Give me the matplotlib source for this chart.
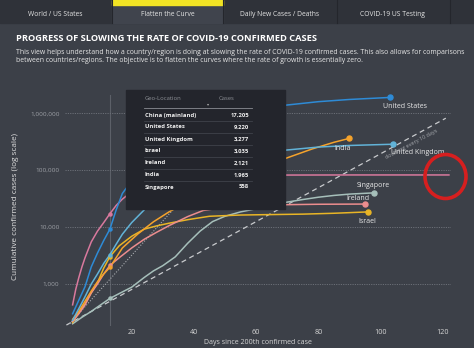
import matplotlib
matplotlib.use('Agg')
import matplotlib.pyplot as plt
from matplotlib.patches import Rectangle, Ellipse

plt.rcParams['font.family'] = ['Open Sans', 'DejaVu Sans']

W, H = 474, 348

# tabs of the dashboard
tab_names = ['World / US States', 'Flatten the Curve', 'Daily New Cases / Deaths', 'COVID-19 US Testing']
title = 'PROGRESS OF SLOWING THE RATE OF COVID-19 CONFIRMED CASES'
desc = ['This view helps understand how a country/region is doing at slowing the rate of COVID-19 confirmed cases. This also allows for comparisons',
        'between countries/regions. The objective is to flatten the curves where the rate of growth is essentially zero.']

# cumulative cases by days since 200th case
china_days = [1, 2, 3, 4, 5, 6, 7, 9, 11, 13, 15, 17, 20, 23, 26, 30, 40, 60, 90, 122]
china_cases = [430, 800, 1300, 2000, 2900, 4000, 5500, 8500, 12000, 17205, 24000, 31000, 42000, 60000,
               70000, 76000, 80000, 82000, 82500, 82500]

us_days = [1, 3, 5, 7, 9, 11, 13, 15, 17, 20, 25, 30, 40, 50, 60, 69, 80, 90, 103]
us_cases = [300, 520, 900, 2000, 3500, 5800, 9220, 20000, 39000, 65000, 160000, 310000, 600000, 900000,
            1180000, 1380000, 1600000, 1750000, 1900000]

uk_days = [1, 3, 5, 7, 9, 11, 13, 15, 17, 20, 24, 28, 32, 36, 40, 45, 50, 55, 60, 69, 80, 90, 104]
uk_cases = [230, 370, 600, 1000, 1500, 2300, 3277, 5000, 7500, 12000, 20000, 35000, 50000, 70000, 90000,
            120000, 145000, 170000, 195000, 224000, 255000, 272000, 286000]

israel_days = [1, 3, 5, 7, 9, 11, 13, 16, 20, 24, 28, 32, 38, 45, 55, 65, 75, 85, 96]
israel_cases = [210, 320, 450, 700, 1050, 1900, 3035, 4700, 6900, 9200, 10500, 11700, 13500, 15500, 16300,
                16600, 16900, 17500, 18500]

ireland_days = [1, 3, 5, 7, 9, 11, 13, 16, 20, 24, 28, 32, 38, 43, 50, 60, 70, 80, 95]
ireland_cases = [220, 300, 430, 700, 1000, 1500, 2121, 2900, 4300, 6100, 8100, 10600, 15300, 19600, 22200,
                 24000, 24800, 25200, 25400]

india_days = [1, 3, 5, 7, 9, 11, 13, 17, 22, 27, 32, 37, 43, 52, 62, 70, 78, 85, 90]
india_cases = [240, 330, 500, 750, 1100, 1500, 1965, 4300, 7600, 12400, 18500, 26300, 37300, 67000, 112000,
               165000, 236000, 309000, 363000]

sing_days = [1, 4, 7, 10, 13, 16, 20, 24, 27, 30, 34, 38, 42, 46, 50, 55, 60, 65, 70, 75, 80, 85, 90, 98]
sing_cases = [200, 260, 330, 430, 558, 680, 880, 1300, 1700, 2100, 3000, 5200, 8500, 12500, 15500, 18500,
              21000, 24500, 27500, 30500, 33500, 36000, 38000, 40000]

# reference lines
ref10_days = [-1, 121]
ref10_cases = [190, 820000]
ref5_days = [0, 50]
ref5_cases = [200, 205000]

# tooltip table (hover at day 13)
hover_day = 13
table_names = ['China (mainland)', 'United States', 'United Kingdom', 'Israel', 'Ireland', 'India', 'Singapore']
table_cases = ['17,205', '9,220', '3,277', '3,035', '2,121', '1,965', '558']

series = [
    ('China (mainland)', china_days, china_cases, '#d9799e', None),
    ('Singapore', sing_days, sing_cases, '#a6bfba', 'Singapore'),
    ('Israel', israel_days, israel_cases, '#e9b526', 'Israel'),
    ('Ireland', ireland_days, ireland_cases, '#ec8d8e', 'Ireland'),
    ('India', india_days, india_cases, '#f5a32c', 'India'),
    ('United Kingdom', uk_days, uk_cases, '#62b3d8', 'United Kingdom'),
    ('United States', us_days, us_cases, '#2e8bd6', 'United States'),
]
# label positions (day, cases)
label_pos = {
    'United States': (108, 1330000),
    'India': (87.7, 243000),
    'United Kingdom': (112, 207000),
    'Singapore': (97.7, 54500),
    'Ireland': (92.6, 32300),
    'Israel': (95.8, 12700),
}

bg = '#3c4048'
fig = plt.figure(figsize=(W / 100, H / 100), dpi=100, facecolor=bg)

# main chart axes placed in pixel terms
left, right, top, bottom = 65, 451, 88, 326
ax = fig.add_axes([left / W, 1 - bottom / H, (right - left) / W, (bottom - top) / H])
ax.set_facecolor('none')
ax.set_yscale('log')
ax.set_xlim((left - 69.5) / 3.11, (right - 69.5) / 3.11)
ax.set_ylim(10 ** (6 - (bottom - 113.3) / 56.9), 10 ** (6 + (113.3 - top) / 56.9))
for s in ax.spines.values():
    s.set_visible(False)
ax.set_xticks([20, 40, 60, 80, 100, 120])
ax.set_yticks([1000, 10000, 100000, 1000000])
ax.set_yticklabels(['1,000', '10,000', '100,000', '1,000,000'])
ax.minorticks_off()
ax.tick_params(axis='x', length=0, pad=2, labelsize=5.2, labelcolor='#d4d4d4')
ax.tick_params(axis='y', length=0, pad=4, labelsize=4.6, labelcolor='#9da0a6')
ax.grid(axis='y', color='#6b6f77', linestyle=(0, (1.2, 1.2)), linewidth=0.7)
ax.set_xlabel('Days since 200th confirmed case', fontsize=5, color='#d4d4d4', labelpad=2)
ax.set_ylabel('Cumulative confirmed cases (log scale)', fontsize=5.9, color='#e0e0e0', labelpad=8)

# hover line
ax.axvline(hover_day, ymin=0.0, ymax=0.97, color='#5c6068', linewidth=0.8, zorder=1)

ax.plot(ref10_days, ref10_cases, color='#c9cbce', linestyle=(0, (4, 3)), linewidth=0.9, zorder=2)
ax.plot(ref5_days, ref5_cases, color='#a9acb0', linestyle=(0, (1, 1.5)), linewidth=0.8, zorder=2)
ax.text(110, 290000, 'doubling every 10 days', fontsize=4, color='#a2a5aa', rotation=28,
        ha='center', va='center', zorder=3)

for name, d, c, col, lab in series:
    ax.plot(d, c, color=col, linewidth=1.1, zorder=4)
    if lab is not None:
        ax.plot(d[-1], c[-1], 'o', color=col, markersize=3.6, zorder=5)
        lx, ly = label_pos[lab]
        ax.text(lx, ly, lab, fontsize=5, color='#e8e8e8', ha='center', va='center', zorder=6)
    if hover_day in d:
        i = d.index(hover_day)
        ax.plot(hover_day, c[i], 'o', color=col, markersize=2.2, zorder=5)

# overlay axes in pixel coordinates for dashboard pieces
ov = fig.add_axes([0, 0, 1, 1])
ov.set_xlim(0, W)
ov.set_ylim(H, 0)
ov.axis('off')
ov.set_facecolor('none')

# tab bar
ov.add_patch(Rectangle((0, 0), W, 23, color='#2f3239', zorder=1))
tab_edges = [0, 112, 223, 337, 450]
tab_centers = [55, 168, 280, 392]
ov.add_patch(Rectangle((112, 0), 111, 23, color='#40444d', zorder=2))
ov.add_patch(Rectangle((112, 0), 111, 5, color='#f2e424', zorder=3))
for e in tab_edges[1:]:
    ov.plot([e, e], [0, 23], color='#24262c', linewidth=0.8, zorder=3)
for name, cx in zip(tab_names, tab_centers):
    ov.text(cx, 14.5, name, fontsize=4.9, color='#e4e4e4', ha='center', va='center', zorder=4)

ov.text(16, 38.3, title, fontsize=6.7, fontweight='bold', color='#ffffff', ha='left', va='center')
ov.text(16, 52.3, desc[0], fontsize=4.98, color='#e6e6e6', ha='left', va='center')
ov.text(16, 61, desc[1], fontsize=4.98, color='#e6e6e6', ha='left', va='center')

# tooltip box
ov.add_patch(Rectangle((126, 90), 159, 119, color='#23252c', zorder=10))
ov.text(145, 99, 'Geo-Location', fontsize=4.2, color='#8d9096', ha='left', va='center', zorder=11)
ov.text(219, 99, 'Cases', fontsize=4.2, color='#8d9096', ha='left', va='center', zorder=11)
ov.text(208, 104, '\u25be', fontsize=3, color='#b0b0b0', ha='center', va='center', zorder=11,
        family='DejaVu Sans')
ov.plot([144, 252], [108, 108], color='#8a8d93', linewidth=0.6, zorder=11)
row_y = [115, 127, 139, 151, 163, 175, 187]
for i, (n, v) in enumerate(zip(table_names, table_cases)):
    y = row_y[i]
    ov.text(145, y, n, fontsize=4.2, fontweight='bold', color='#f0f0f0', ha='left', va='center', zorder=11)
    ov.text(249, y, v, fontsize=4.2, fontweight='bold', color='#f0f0f0', ha='right', va='center', zorder=11)
    if i < len(table_names) - 1:
        ov.plot([144, 252], [y + 6, y + 6], color='#3f424a', linewidth=0.6, zorder=11)

# red highlight circle
ov.add_patch(Ellipse((445.5, 176.5), 41, 44, fill=False, edgecolor='#d61f1f', linewidth=2.6, zorder=12))

fig.savefig('out.png', dpi=100, facecolor=bg)
